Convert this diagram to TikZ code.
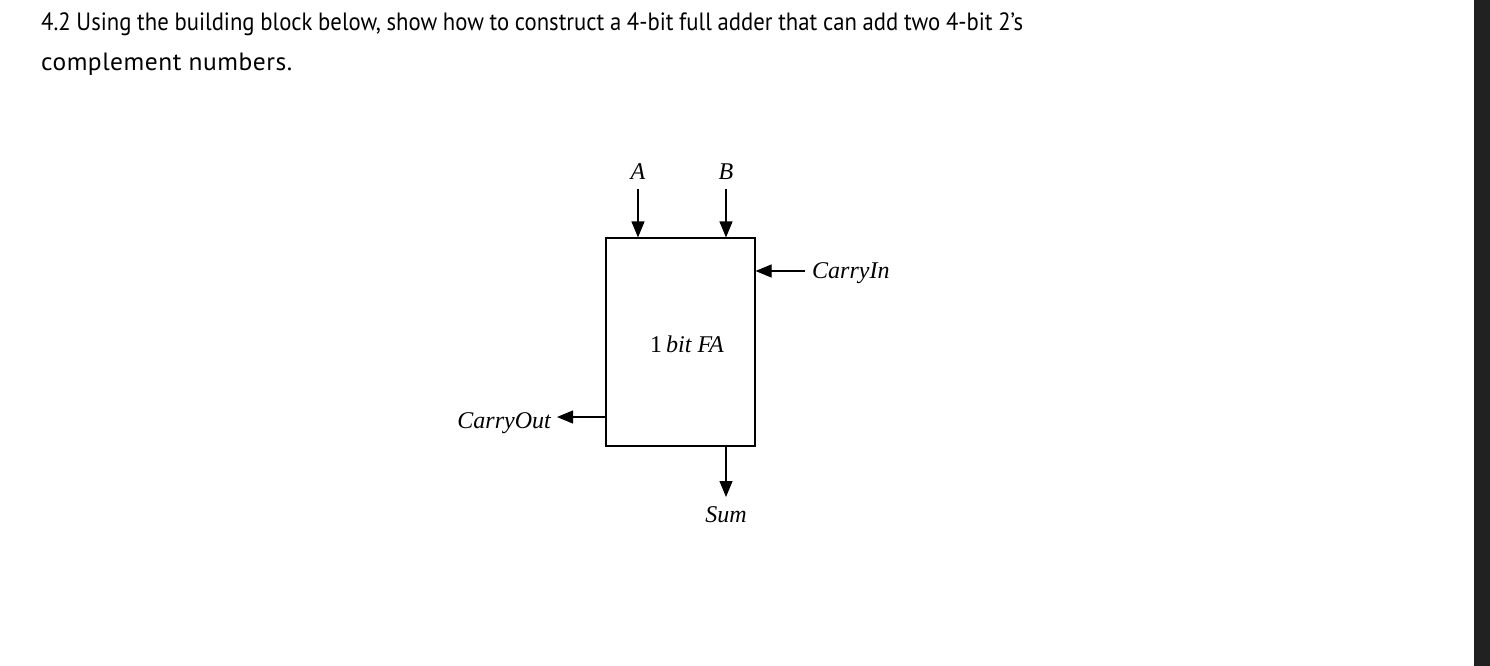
\documentclass[tikz,border=0pt]{standalone}
\usepackage{fontspec}
\usepackage{graphicx}
\setmainfont{Liberation Serif}
\newfontfamily\qfont{PT Sans}
\usetikzlibrary{arrows.meta}
\tikzset{
  lbl/.style={font=\fontsize{24}{28}\selectfont\itshape, inner sep=0pt},
  sig/.style={line width=1.1pt, -{Triangle[length=16pt,width=13pt]}},
  qtext/.style={anchor=base west, inner sep=0pt, font=\qfont\fontsize{25}{30}\selectfont}
}
\begin{document}
\begin{tikzpicture}[x=1pt,y=-1pt]
\useasboundingbox (0,0) rectangle (1490,666);
\fill[white] (0,0) rectangle (1474,666);
\fill[black!87] (1474,0) rectangle (1490,666);
\node[qtext] (q1) at (41,31) {\resizebox{982pt}{\height}{\spaceskip=0.25em\relax 4.2 Using the building block below, show how to construct a 4-bit full adder that can add two 4-bit 2’s}};
\node[qtext] (q2) at (41,71) {\resizebox{251pt}{\height}{\addfontfeature{LetterSpace=2}complement numbers.}};
% block
\node[draw, line width=1.1pt, minimum width=149pt, minimum height=208pt, inner sep=0pt] (fa) at (680.5,342) {};
\node[lbl, anchor=base, font=\fontsize{24}{28}\selectfont] (falbl) at (687,352) {1\,\textit{bit FA}};
% inputs
\node[lbl, anchor=base] (la) at (638,179) {A};
\node[lbl, anchor=base] (lb) at (726,179) {B};
\coordinate (a0) at (638,189);
\coordinate (b0) at (726,189);
\draw[sig] (a0) -- (a0 |- fa.north);
\draw[sig] (b0) -- (b0 |- fa.north);
\node[lbl, anchor=base west] (lcin) at (812,278) {CarryIn};
\coordinate (cin0) at (805,271);
\draw[sig] (cin0) -- (cin0 -| fa.east);
% outputs
\node[lbl, anchor=base east] (lcout) at (551,428) {CarryOut};
\coordinate (cout0) at (557,417);
\draw[sig] (cout0 -| fa.west) -- (cout0);
\node[lbl, anchor=base] (lsum) at (726,522) {Sum};
\coordinate (sum0) at (726,497);
\draw[sig] (sum0 |- fa.south) -- (sum0);
\end{tikzpicture}
\end{document}
